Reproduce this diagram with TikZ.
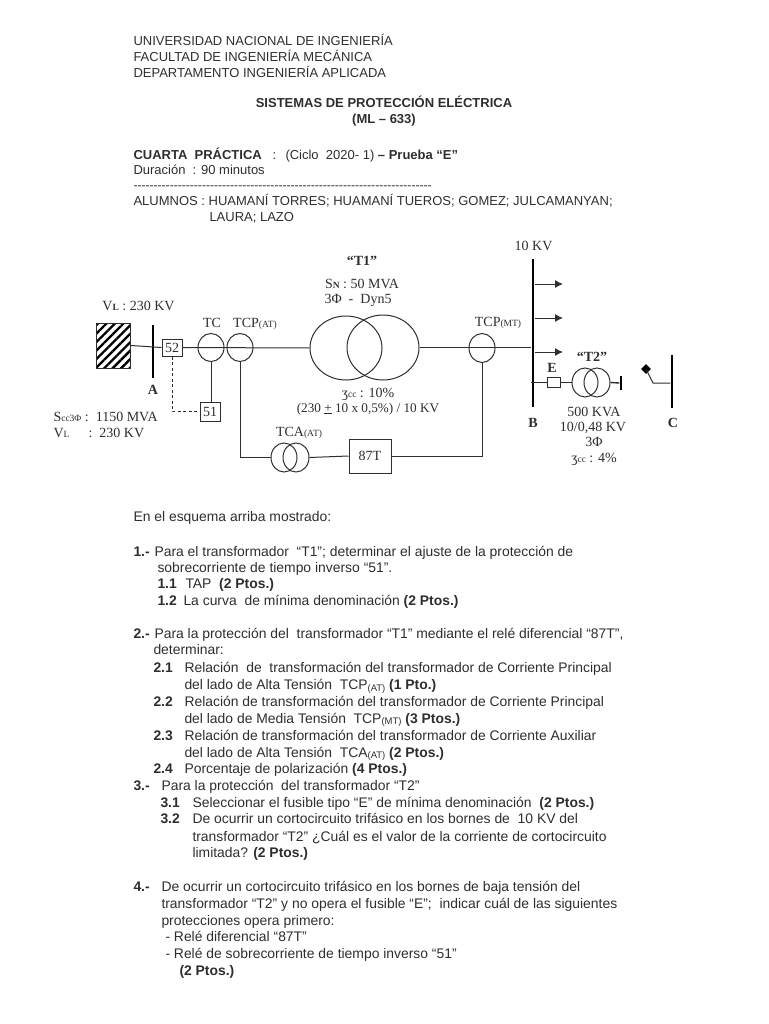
\documentclass[tikz,border=0pt]{standalone}
\usepackage{fontspec}
\setmainfont{Liberation Sans}
\newfontfamily\serifcir{Liberation Serif}
\usetikzlibrary{shapes.geometric,patterns.meta,arrows.meta}
\definecolor{ink}{gray}{0.18}
\newcommand{\smalltag}[1]{{\fontsize{9.5}{10}\selectfont #1}}
\newcommand{\lowtag}[1]{\raisebox{-1.5pt}{\smalltag{#1}}}
\tikzset{
  txt/.style={anchor=base west,inner sep=0pt,text=ink,font=\fontsize{13.9}{16}\selectfont},
  txtb/.style={txt,font=\fontsize{13.9}{16}\selectfont\bfseries},
  head/.style={txt,font=\fontsize{13}{15}\selectfont},
  headb/.style={txt,font=\fontsize{13}{15}\selectfont\bfseries},
  lbl/.style={anchor=base,inner sep=0pt,text=ink,font=\fontsize{14}{16}\selectfont\serifcir},
  lblb/.style={lbl,font=\fontsize{14}{16}\selectfont\serifcir\bfseries},
  relay/.style={draw=ink,rectangle,inner sep=0pt,text=ink,font=\fontsize{14}{16}\selectfont\serifcir},
  coil/.style={draw=ink,ellipse,inner sep=0pt},
  bus/.style={fill=black,rectangle,inner sep=0pt,minimum width=2.2pt},
  wire/.style={draw=ink,line width=1pt},
  feeder/.style={wire,-{Latex[length=8pt,width=8pt]}}
}
\begin{document}
\begin{tikzpicture}[x=1pt,y=-1pt,line width=1pt]
  \useasboundingbox (0,0) rectangle (768,1024);

  \node[head] (uni) at (133,46) {UNIVERSIDAD NACIONAL DE INGENIERÍA};
  \node[head] (fac) at (133,62) {FACULTAD DE INGENIERÍA MECÁNICA};
  \node[head] (dep) at (133,77.5) {DEPARTAMENTO INGENIERÍA APLICADA};
  \node[headb,anchor=base] (tit) at (384,107.5) {SISTEMAS DE PROTECCIÓN ELÉCTRICA};
  \node[headb,anchor=base] (cod) at (384,124) {(ML – 633)};
  \node[headb] (cua) at (133,159.5) {CUARTA\ \ PRÁCTICA};
  \node[head] (cuc) at (272,159.5) {:};
  \node[head] (cic) at (285,159.5) {(Ciclo\ \ 2020- 1) \textbf{– Prueba “E”}};
  \node[head] (dur) at (133,175) {Duración\ \ : 90 minutos};
  \node[head,font=\fontsize{12.1}{15}\selectfont] (sep) at (133,190) {\foreach \n in {1,...,74}{-\kern0pt}};
  \node[head] (alu) at (133,205.5) {ALUMNOS : HUAMANÍ TORRES; HUAMANÍ TUEROS; GOMEZ; JULCAMANYAN;};
  \node[head] (lau) at (209,221.5) {LAURA; LAZO};

  \node[draw=ink,pattern={Lines[angle=45,distance=6pt,line width=2.4pt]},rectangle,inner sep=0pt,minimum width=34pt,minimum height=45pt] (src) at (113,345.5) {};
  \node[bus,minimum height=53pt] (busA) at (153,351.5) {};
  \node[relay,minimum width=20pt,minimum height=17pt] (r52) at (172,347.5) {52};
  \node[coil,minimum width=26pt,minimum height=28pt] (tc) at (211,347.5) {};
  \node[coil,minimum width=26pt,minimum height=28pt] (tcpat) at (240,347.5) {};
  \node[coil,minimum width=72pt,minimum height=64pt] (t1a) at (346,348) {};
  \node[coil,minimum width=72pt,minimum height=65pt] (t1b) at (383,347.5) {};
  \node[coil,minimum width=26pt,minimum height=29pt] (tcpmt) at (482,348) {};
  \node[bus,minimum height=148pt] (busB) at (533,333) {};
  \node[relay,minimum width=20pt,minimum height=19pt] (r51) at (210,411.5) {51};
  \node[coil,minimum width=26pt,minimum height=29pt] (tcaa) at (284,457.5) {};
  \node[coil,minimum width=26pt,minimum height=29pt] (tcab) at (296,457.5) {};
  \node[relay,minimum width=42pt,minimum height=34pt] (r87) at (370,456) {87T};
  \node[draw=ink,rectangle,inner sep=0pt,minimum width=13pt,minimum height=10pt] (fuse) at (553.5,382.5) {};
  \node[coil,minimum width=26pt,minimum height=29pt] (t2a) at (585,382.5) {};
  \node[coil,minimum width=26pt,minimum height=29pt] (t2b) at (597,382.5) {};
  \node[bus,minimum height=14pt] (lv) at (621,383) {};
  \node[bus,minimum height=53pt] (busC) at (672,381.5) {};
  \node[fill=black,diamond,inner sep=0pt,minimum width=10pt,minimum height=10pt] (sw) at (646,369) {};

  \coordinate (load1) at (563,284);
  \coordinate (load2) at (563,318);
  \coordinate (load3) at (563,352);
  \coordinate (swk) at (653,383);
  \coordinate (dash1) at (r52.south |- r51.west);
  \coordinate (dif1) at (tcpat.south |- tcaa.west);
  \coordinate (dif2) at (tcpmt.south |- r87.east);

  \draw[wire] (src.east) -- (r52.west);
  \draw[wire] (r52.east) -- (t1a.west);
  \draw[wire] (t1b.east) -- (busB.west |- t1b.east);
  \draw[feeder] (load1 -| busB.east) -- (load1);
  \draw[feeder] (load2 -| busB.east) -- (load2);
  \draw[feeder] (load3 -| busB.east) -- (load3);
  \draw[wire] (tc.south) -- (tc.south |- r51.north);
  \draw[wire,dashed,dash pattern=on 3pt off 2.5pt] (r52.south) -- (dash1) -- (r51.west);
  \draw[wire] (tcpat.south) -- (dif1) -- (tcaa.west);
  \draw[wire] (tcab.east) -- (r87.west);
  \draw[wire] (r87.east) -- (dif2) -- (tcpmt.south);
  \draw[wire] (busB.west |- fuse.west) -- (fuse.west);
  \draw[wire] (fuse.east) -- (t2a.west);
  \draw[wire,line width=1.4pt] (t2b.east) -- (lv.west);
  \draw[wire] (busC.west |- swk) -- (swk) -- (sw.center);

  \node[lbl] (vl) at (138.5,310) {V{\fontsize{9.5}{10}\selectfont\bfseries L} : 230 KV};
  \node[lbl] (ltc) at (212,327) {TC};
  \node[lbl] (ltcpat) at (255,327) {TCP\smalltag{(AT)}};
  \node[lblb] (lt1) at (362,265) {“T1”};
  \node[lbl] (lsn) at (362,288) {S{\fontsize{9.5}{10}\selectfont\bfseries N} : 50 MVA};
  \node[lbl] (ldyn) at (358,303) {3Φ\ \ -\ \ Dyn5};
  \node[lbl] (lzcc) at (368,397) {ʒ\smalltag{cc} : 10\%};
  \node[lbl,font=\fontsize{13.2}{16}\selectfont\serifcir] (ltap) at (368,412) {(230 \underline{+}\ 10 x\ 0,5\%) / 10 KV};
  \node[lblb] (la) at (153,394) {A};
  \node[lbl,anchor=base west] (lscc) at (53,421) {S\smalltag{cc3Φ} :\ \ 1150 MVA};
  \node[lbl,anchor=base west] (lvl) at (53,437) {V\smalltag{L}};
  \node[lbl,anchor=base west] (lvl2) at (88,437) {:\ \ 230 KV};
  \node[lbl] (ltca) at (299,436) {TCA\smalltag{(AT)}};
  \node[lbl] (ltcpmt) at (498,326) {TCP\smalltag{(MT)}};
  \node[lbl] (lbus) at (533.5,251) {10 KV};
  \node[lblb] (lt2) at (592,361) {“T2”};
  \node[lblb] (le) at (552,372) {E};
  \node[lblb] (lb) at (533,427) {B};
  \node[lblb] (lc) at (673,427) {C};
  \node[lbl] (lkva) at (594,416) {500 KVA};
  \node[lbl] (lkv) at (593,431) {10/0,48 KV};
  \node[lbl] (lph) at (594,446) {3Φ};
  \node[lbl] (lz2) at (594,462) {ʒ\smalltag{cc} : 4\%};

  \node[txt] (p0) at (133,521) {En el esquema arriba mostrado:};
  \node[txtb] (n1) at (133,556) {1.-};
  \node[txt] (p1) at (154,556) {Para el transformador\ \ “T1”; determinar el ajuste de la protección de};
  \node[txt] (p1b) at (157,572) {sobrecorriente de tiempo inverso “51”.};
  \node[txtb] (n11) at (157,588.5) {1.1};
  \node[txt] (p11) at (185,588.5) {TAP\ \ \textbf{(2 Ptos.)}};
  \node[txtb] (n12) at (157,605.5) {1.2};
  \node[txt] (p12) at (183,605.5) {La curva\ \ de mínima denominación \textbf{(2 Ptos.)}};
  \node[txtb] (n2) at (133,638.5) {2.-};
  \node[txt] (p2) at (154,638.5) {Para la protección del\ \ transformador “T1” mediante el relé diferencial “87T”,};
  \node[txt] (p2b) at (153,654) {determinar:};
  \node[txtb] (n21) at (153,672.5) {2.1};
  \node[txt] (p21) at (184,672.5) {Relación\ \ de\ \ transformación del transformador de Corriente Principal};
  \node[txt] (p21b) at (184,689.5) {del lado de Alta Tensión\ \ TCP\lowtag{(AT)} \textbf{(1 Pto.)}};
  \node[txtb] (n22) at (153,706.5) {2.2};
  \node[txt] (p22) at (184,706.5) {Relación de transformación del transformador de Corriente Principal};
  \node[txt] (p22b) at (184,723) {del lado de Media Tensión\ \ TCP\lowtag{(MT)} \textbf{(3 Ptos.)}};
  \node[txtb] (n23) at (153,740) {2.3};
  \node[txt] (p23) at (184,740) {Relación de transformación del transformador de Corriente Auxiliar};
  \node[txt] (p23b) at (184,757) {del lado de Alta Tensión\ \ TCA\lowtag{(AT)} \textbf{(2 Ptos.)}};
  \node[txtb] (n24) at (153,773) {2.4};
  \node[txt] (p24) at (184,773) {Porcentaje de polarización \textbf{(4 Ptos.)}};
  \node[txtb] (n3) at (133,790) {3.-};
  \node[txt] (p3) at (161,790) {Para la protección\ \ del transformador “T2”};
  \node[txtb] (n31) at (160,807) {3.1};
  \node[txt] (p31) at (192,807) {Seleccionar el fusible tipo “E” de mínima denominación\ \ \textbf{(2 Ptos.)}};
  \node[txtb] (n32) at (160,823.5) {3.2};
  \node[txt] (p32) at (192,823.5) {De ocurrir un cortocircuito trifásico en los bornes de\ \ 10 KV del};
  \node[txt] (p32b) at (192,841) {transformador “T2” ¿Cuál es el valor de la corriente de cortocircuito};
  \node[txt] (p32c) at (192,857) {limitada? \textbf{(2 Ptos.)}};
  \node[txtb] (n4) at (133,891) {4.-};
  \node[txt] (p4) at (161,891) {De ocurrir un cortocircuito trifásico en los bornes de baja tensión del};
  \node[txt] (p4b) at (161,908) {transformador “T2” y no opera el fusible “E”;\ \ indicar cuál de las siguientes};
  \node[txt] (p4c) at (161,925) {protecciones opera primero:};
  \node[txt] (p4d) at (165,941) {- Relé diferencial “87T”};
  \node[txt] (p4e) at (165,958) {- Relé de sobrecorriente de tiempo inverso “51”};
  \node[txtb] (p4f) at (179,975) {(2 Ptos.)};
\end{tikzpicture}
\end{document}
